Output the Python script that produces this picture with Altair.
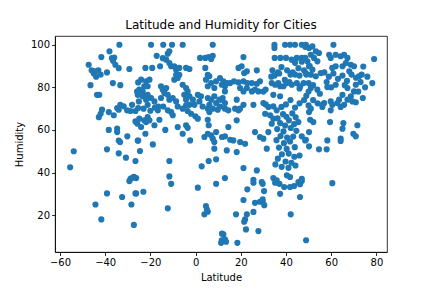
import altair as alt
import pandas as pd

# (latitude, humidity) pairs, grouped by region
far_south = [
    (-55.5, 42.5), (-53.9, 50), (-47.3, 90.6), (-46.5, 81), (-46, 88), (-45, 86.5),
    (-44, 85), (-43, 88), (-44.5, 87.5), (-42, 86), (-41.7, 94.2), (-38.1, 96.9),
    (-37, 93.7), (-36, 94), (-36.5, 92.5), (-35.5, 90.6), (-34, 89), (-33.7, 100),
    (-39.2, 87), (-29.3, 88.6), (-36.6, 82), (-33.3, 81), (-43.6, 76.5), (-42.6, 76.5),
    (-25.4, 82.3), (-25.9, 78), (-33.3, 71.8), (-31.8, 71.1), (-34.7, 70.3), (-41.4, 69.5),
    (-28.1, 71.8), (-25.1, 73.4), (-42.8, 66), (-42, 67.6), (-38.4, 68.4), (-36.2, 66.9),
    (-34, 69.5), (-30.3, 69.2), (-28.8, 68.9), (-26.6, 68.9), (-25.4, 70.3),
    (-38.4, 60), (-34.7, 60.6), (-34.7, 59), (-34, 55), (-33.4, 54.3), (-30.2, 57),
    (-39.2, 50.9), (-34, 49), (-30.8, 47), (-26.6, 45.4), (-25.4, 55), (-26.6, 64),
    (-25.8, 63), (-28.8, 37), (-28, 37.5), (-27.3, 38), (-26.3, 37.4), (-39.2, 30.2),
    (-44.3, 25), (-41.7, 18), (-32.5, 28.5), (-28.4, 25), (-26.6, 30.2), (-27.3, 15.4),
    (-29.3, 36), (-26.3, 30.2), (-23.1, 31),
]

south_tropics = [
    (-19.7, 100), (-14.3, 100), (-10.4, 100), (-5.7, 100), (-17.2, 94.8), (-14.5, 93.7),
    (-12.3, 95.8), (-11.6, 96.9), (-13, 93), (-11.6, 91.4), (-10.8, 89.9), (-9.4, 89.9),
    (-8.6, 88.3), (-7.2, 89.1), (-22.2, 89.1), (-19.2, 89.1), (-15.7, 89.9), (-4.2, 89.1),
    (-2.7, 88.6), (-8.6, 85.9), (-7.2, 85.9), (-7.9, 84.4), (-9.4, 83.6), (-24.1, 83.6),
    (-21.9, 82.8), (-20.4, 83.6), (-22.7, 80.5), (-21.2, 80.5), (-24.9, 78.9), (-25.6, 76.5),
    (-23.4, 78.1), (-21.2, 76.5), (-23.4, 75.8), (-21.9, 74.2), (-19.7, 75), (-18.2, 73.4),
    (-21.2, 71.8), (-15.3, 80.5), (-14.5, 78.9), (-13, 79.7), (-13.8, 77.3), (-12.3, 76.5),
    (-15.3, 75), (-11.6, 74.2), (-10.1, 75), (-8.6, 73.4), (-5.7, 81.2), (-4.2, 79.7),
    (-3.5, 78.1), (-5, 76.5), (-2.7, 75.8), (-1.2, 74.2), (-4.2, 74.2), (-2.7, 71.8),
    (-0.5, 71.8), (1.7, 73.4), (2.4, 75.8), (1, 76.5), (-16.5, 71), (-14.3, 71),
    (-7.9, 71), (-4.2, 71.5), (3.1, 71), (-16.7, 69.2), (-12.3, 69.2), (-10.8, 68.4),
    (-10.1, 66.9), (-5.7, 70), (-3.5, 68.9), (-2, 67.6), (-0.1, 66.4), (1, 65.3),
    (-23, 70), (-20, 69), (-18, 70.5), (-24.1, 61.4), (-24.9, 65.3), (-22.7, 64.5),
    (-21.2, 66), (-20.4, 64.5), (-21.9, 63.7), (-18.2, 62.2), (-16, 64.8), (-13.4, 60),
    (-7.9, 61.4), (-5.7, 58.2), (-4.2, 62.2), (-3.5, 61), (-2.4, 55.1), (-25.6, 55),
    (-18.9, 53.2), (-22.2, 58.2), (-24.6, 50.1), (-11.6, 45.4), (-11.6, 38.2),
    (-10.8, 34.7), (-12.3, 23.2), (1, 32.9),
]

north_tropics = [
    (7.6, 100), (2, 93.8), (4.3, 93.8), (5.8, 94.2), (7.6, 94.8), (6.9, 93.3), (4.3, 89.1),
    (5.4, 85.9), (6.1, 85.2), (4.6, 83.6), (6.9, 82), (9.1, 82.8), (5.4, 80.5), (8.3, 79.7),
    (5.4, 75), (6.9, 74.2), (8.3, 75.8), (9.1, 72.6), (10.5, 74.2), (12, 75), (6.1, 71.8),
    (10.8, 84.4), (12.3, 82.8), (13, 80.5), (11.6, 81.2), (13.8, 82), (15.3, 82), (13, 78.1),
    (17, 82.8), (19, 82.3), (21.2, 82.8), (22.9, 82), (24.9, 82), (27.1, 81.7), (28.5, 82.8),
    (19, 89.1), (20.4, 89.9), (22.7, 87.5), (21.5, 86.7), (27.1, 88), (21.2, 94.2),
    (19.7, 79.7), (21.2, 78.1), (22.7, 79.7), (24.9, 78.1), (26.3, 78.9), (27.8, 78.1),
    (11.6, 74.2), (13, 72.6), (10.8, 71), (18.2, 74.2), (21.2, 71.8), (25.6, 71.8),
    (30, 72.6), (13, 70), (14.5, 69.2), (17.5, 70), (19, 69.2), (19.7, 70), (5.4, 70),
    (7.6, 70), (9.8, 69.5), (6.1, 68.4), (5.4, 64.8), (5.8, 62.2), (18.2, 64.5), (14.5, 61.4),
    (3.9, 56.7), (5.4, 58.2), (6.9, 57.5), (7.6, 55.9), (9.1, 59), (8.3, 54.3), (8.3, 51.2),
    (11.7, 56.7), (13, 57), (15.3, 55.4), (16.7, 55.1), (19.7, 54.3), (21.9, 53.5),
    (13.8, 50.4), (18.2, 49.6), (21.2, 42.1), (13, 37.4), (2.7, 42.9), (5.8, 45.4),
    (9.1, 46.2), (9.1, 34.7), (4.6, 24.3), (5, 22.7), (3.9, 20.4), (5.4, 21.6),
    (11.7, 11.3), (11.3, 7), (12.3, 11), (13, 8.6), (11.6, 8.2), (13.5, 7.5), (18.5, 7),
    (17.9, 20.4), (21.9, 18), (22.7, 20.4), (21.5, 16.9), (22.3, 13.3), (25.6, 21.5),
    (27.8, 12.5), (21.2, 27.1), (22.9, 32.1), (25.6, 35.2), (29.7, 34.7), (26.3, 25.8),
    (28.5, 26.3), (29.7, 26.3), (30.4, 24.7), (29.7, 27.4), (30.3, 31.3), (26.3, 59),
    (28.5, 56.7), (30, 55.9), (27.1, 41), (25.6, 36.6), (29.3, 35.5),
]

mid_north = [
    (34.9, 100), (39.6, 100), (41.8, 100), (44, 100), (47, 100), (48.5, 99), (34.9, 98.5),
    (35, 93.8), (37.5, 93.8), (40, 93.8), (42.5, 93), (44.8, 93.8), (47, 93.8), (48.5, 93.8),
    (44, 91.5), (47, 92), (45.5, 89), (48, 88), (50.5, 90), (49, 86), (46, 85.5), (43, 87),
    (34, 88), (36.5, 87), (38, 89.5), (40.5, 88), (42, 86), (33.5, 85), (35, 85.5),
    (37, 86.5), (39.5, 83.5), (41.5, 82.5), (44, 86), (33.7, 82), (35.2, 81.2), (36.6, 82),
    (37.4, 80.5), (38.9, 80.5), (40.4, 82), (42.6, 81.2), (44.8, 82), (46.3, 80.5),
    (47.8, 82), (50, 82), (52, 81), (46, 79.5), (30, 78), (31, 79), (31, 72), (34.4, 71.1),
    (34.4, 76.5), (37.4, 75.8), (40, 72), (42, 74), (44, 70.5), (46, 72.5), (48, 74),
    (50, 71.5), (38, 70.8), (32.2, 70.8), (35.9, 69.2), (30.8, 67.6), (33, 66.9),
    (34.4, 65.3), (33.7, 62.9), (32.2, 59), (31.5, 51.2),
    (36.3, 65.5), (38.7, 67.4), (40.2, 66.2), (42.8, 67.8), (44.3, 65.9), (37.4, 63.2),
    (39.6, 62.1), (41.3, 64.5), (43.6, 62.7), (36.1, 60.4), (38.9, 59.3), (42.1, 60.9),
    (44.6, 59.6), (37.6, 57.1), (40.5, 56.4), (43.2, 56.9), (35.8, 55.2), (39.1, 53.8),
    (41.8, 54.6), (36.9, 51.7), (40.3, 51.1), (43.9, 51.9), (38.2, 48.6), (41.2, 48.9),
    (43.7, 47.4), (36.4, 46.5), (39.8, 45.2), (42.4, 44.6), (35.3, 43.8), (38.1, 42.7),
    (41.1, 42.2), (44.2, 43.3),
    (45.5, 63.7), (46, 48), (48.5, 55.1), (47, 57), (40.4, 38.7), (41.8, 37.9),
    (34.4, 37.4), (35.9, 36.3), (45.5, 35.5), (47, 37.1), (35.2, 35.2), (37.1, 34.7),
    (39.2, 33.2), (41.8, 33.2), (43.6, 33.7), (46.2, 34.5), (47, 36), (37.4, 30),
    (46.2, 28.5), (42.1, 20.4), (48.9, 8.2),
]

far_north = [
    (51, 70), (50.2, 68.4), (56.1, 70.8), (59.8, 69.2), (64.2, 70.8), (50.7, 64.8),
    (52.1, 63.7), (59.5, 63.7), (65.4, 63.2), (65, 60.6), (71.6, 62.2), (69.8, 58.2),
    (70.9, 57), (50.2, 59), (48.8, 55.4), (50.2, 52.3), (58.3, 55.1), (64.2, 55.9),
    (64.2, 54.8), (54.6, 50.9), (58, 50.9), (60.5, 35), (61, 100), (48.8, 100),
    (50.2, 98.5), (51.7, 99.2), (53.2, 96.9), (54.6, 96.1), (51, 95.3), (52.4, 93.8),
    (53.9, 92.2), (49.5, 92.2), (50.2, 89.9), (51.7, 88.3), (48.8, 86.7), (51, 85.9),
    (53.2, 85.2), (55.4, 86.7), (59.1, 95.3), (59.8, 93.8), (62, 95.3), (64.2, 94.6),
    (65.7, 95.3), (67.2, 93.8), (66.5, 91.4), (68.7, 90.6), (70.1, 89.9), (65, 89.9),
    (62, 89.9), (60.5, 89.1), (67.2, 79.7), (70.1, 78.1), (70.9, 81.2), (68.7, 75.8),
    (67.2, 74.2), (65, 76.5), (63.5, 74.2), (62.7, 72.6), (65.7, 71.8), (59.8, 73.4),
    (60.5, 71.8), (56.9, 72.6), (56.1, 71.8), (69.4, 73.4), (70.9, 73), (57, 87),
    (59, 85), (61, 86.5), (63, 84), (65, 85.5), (67, 83), (69, 86), (71, 84.5), (73, 82.5),
    (58, 82.5), (62, 81.2), (60, 80), (66, 81), (68, 87.5), (72.3, 85.2), (74.2, 89.8),
    (79, 93.3), (78.2, 82), (58.3, 80.1), (53.9, 78.9), (51, 79.7), (76, 85), (75, 80),
    (72, 78), (74, 75), (73.5, 86), (49, 76), (52, 74), (54, 72.5), (55, 77), (50, 78),
]

x_ticks = [-60, -40, -20, 0, 20, 40, 60, 80]
y_ticks = [20, 40, 60, 80, 100]

rows = far_south + south_tropics + north_tropics + mid_north + far_north
df = pd.DataFrame(rows, columns=["Latitude", "Humidity"])

FONT = "DejaVu Sans"

chart = (
    alt.Chart(df)
    .mark_circle(size=38, color="#1f77b4", opacity=1)
    .encode(
        x=alt.X(
            "Latitude:Q",
            scale=alt.Scale(domain=[-62.2, 84.7], nice=False, zero=False),
            axis=alt.Axis(values=x_ticks, title="Latitude", grid=False),
        ),
        y=alt.Y(
            "Humidity:Q",
            scale=alt.Scale(domain=[2.7, 104.1], nice=False, zero=False),
            axis=alt.Axis(values=y_ticks, title="Humidity", grid=False),
        ),
    )
    .properties(
        width=332,
        height=216,
        autosize=alt.AutoSizeParams(type="none"),
        padding={"left": 55, "top": 36, "right": 45, "bottom": 36},
        title=alt.Title(
            "Latitude and Humidity for Cities",
            font=FONT,
            fontSize=12,
            fontWeight="normal",
            color="black",
            anchor="middle",
            offset=4,
        ),
        background="white",
    )
    .configure_view(stroke="black", strokeWidth=0.8)
    .configure_axis(
        labelFont=FONT,
        labelFontSize=10,
        labelColor="black",
        titleFont=FONT,
        titleFontSize=10,
        titleFontWeight="normal",
        titleColor="black",
        tickColor="black",
        tickSize=3.5,
        tickWidth=0.8,
        domainColor="black",
        domainWidth=0.8,
        labelPadding=2,
        labelFlush=False,
    )
    .configure_axisX(titlePadding=5)
    .configure_axisY(titlePadding=6)
)

chart.save("out.html", embed_options={"renderer": "svg", "actions": False})
